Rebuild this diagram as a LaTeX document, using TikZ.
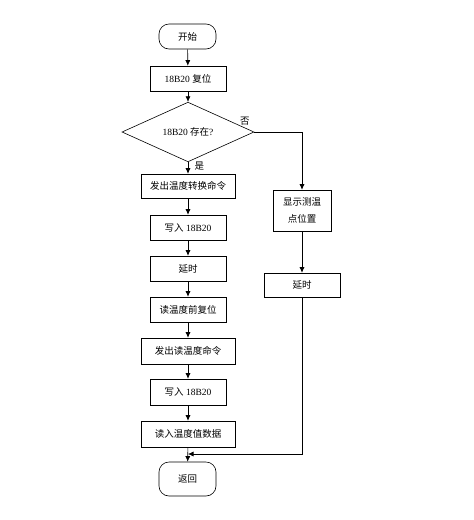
\documentclass[tikz,border=0pt]{standalone}
\usepackage{fontspec}
\setmainfont{Liberation Serif}
\newfontfamily\cjk{Noto Sans CJK SC}
\usetikzlibrary{shapes.geometric,arrows.meta}

\begin{document}
\begin{tikzpicture}[x=1pt, y=-1pt, >={Latex[length=5.5pt,width=5pt]},
    font=\fontsize{9.5}{17}\selectfont,
    every path/.style={line width=0.6pt},
    box/.style={draw, rectangle, inner sep=0pt, minimum width=76pt, minimum height=25pt, align=center},
    widebox/.style={box, minimum width=94pt},
    term/.style={draw, rectangle, rounded corners=10pt, inner sep=0pt, minimum width=57pt},
    decide/.style={draw, diamond, inner sep=0pt, minimum width=132pt, minimum height=48pt}]
  \useasboundingbox (0,0) rectangle (474,520);
  % main column
  \node[term, minimum height=25pt] (start) at (187.5,36.5) {\cjk 开始};
  \node[box] (reset) at (188,78.5) {18B20 {\cjk 复位}};
  \node[decide] (exist) at (188,132) {18B20 {\cjk 存在}?};
  \node[widebox, minimum height=24pt] (convcmd) at (188,186) {\cjk 发出温度转换命令};
  \node[box] (writea) at (188,227.5) {{\cjk 写入} 18B20};
  \node[box] (delaya) at (188,268.5) {\cjk 延时};
  \node[box] (prereset) at (188,309.5) {\cjk 读温度前复位};
  \node[widebox, minimum height=26pt] (readcmd) at (188,351) {\cjk 发出读温度命令};
  \node[box, minimum height=26pt] (writeb) at (188,392) {{\cjk 写入} 18B20};
  \node[widebox, minimum height=26pt] (readdata) at (188,434) {\cjk 读入温度值数据};
  \node[term, minimum height=34pt] (ret) at (187.5,479) {\cjk 返回};
  % right column
  \node[box, minimum width=58pt, minimum height=41pt] (showpos) at (302,210.5) {\cjk 显示测温\\\cjk 点位置};
  \node[box, minimum height=24pt] (delayb) at (302,285) {\cjk 延时};
  \coordinate (merge) at (188,454);

  \draw[->] (start) -- (reset);
  \draw[->] (reset) -- (exist);
  \draw[->] (exist) -- (convcmd) node[pos=0.35, right=3pt] {\cjk 是};
  \draw[->] (convcmd) -- (writea);
  \draw[->] (writea) -- (delaya);
  \draw[->] (delaya) -- (prereset);
  \draw[->] (prereset) -- (readcmd);
  \draw[->] (readcmd) -- (writeb);
  \draw[->] (writeb) -- (readdata);
  \draw[->] (readdata) -- (ret);
  \draw[->] (exist.east) -| (showpos) node[pos=0, anchor=south east, xshift=-1pt, yshift=3pt] {\cjk 否};
  \draw[->] (showpos) -- (delayb);
  \draw[->] (delayb) |- (merge);
\end{tikzpicture}
\end{document}
